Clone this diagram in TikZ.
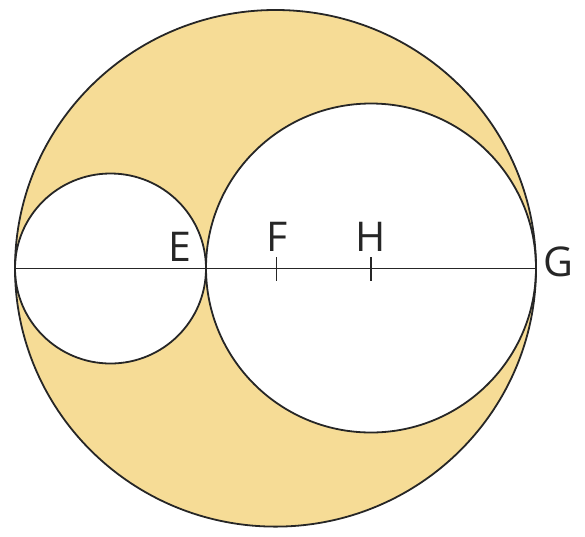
\documentclass[tikz,border=0pt]{standalone}
\usepackage{fontspec}
\setmainfont{Open Sans}
\definecolor{paleyellow}{RGB}{246,220,150}
\begin{document}
\begin{tikzpicture}[x=1pt,y=-1pt,
  outline/.style={draw=black!85,line width=1.8pt},
  lbl/.style={inner sep=0pt,font=\fontsize{41}{41}\selectfont,text=black!85},
  tick/.style={draw=black!85,line width=1.8pt}]
\useasboundingbox (0,0) rectangle (585,536);
% shapes
\fill[paleyellow] (275.5,268.3) ellipse [x radius=260.5, y radius=258.3];
\fill[white] (110.5,268.5) ellipse [x radius=95.5, y radius=95];
\fill[white] (371,268) ellipse [x radius=165, y radius=164.5];
\draw[outline] (275.5,268.3) ellipse [x radius=260.5, y radius=258.3];
\draw[outline] (110.5,268.5) ellipse [x radius=95.5, y radius=95];
\draw[outline] (371,268) ellipse [x radius=165, y radius=164.5];
% diameter
\coordinate (L) at (15,268.5);
\coordinate (R) at (536,268.5);
\coordinate (Fp) at (276.5,268.5);
\coordinate (Hp) at (371,268.5);
\draw[outline] (L) -- (R);
\draw[tick] ([yshift=-12]Fp) -- ([yshift=12]Fp);
\draw[tick] ([yshift=-12]Hp) -- ([yshift=12]Hp);
% labels
\node[lbl] (E) at (180,247) {E};
\node[lbl] (F) at (277,237) {F};
\node[lbl] (H) at (371,237) {H};
\node[lbl] (G) at (558,262) {G};
\end{tikzpicture}
\end{document}
